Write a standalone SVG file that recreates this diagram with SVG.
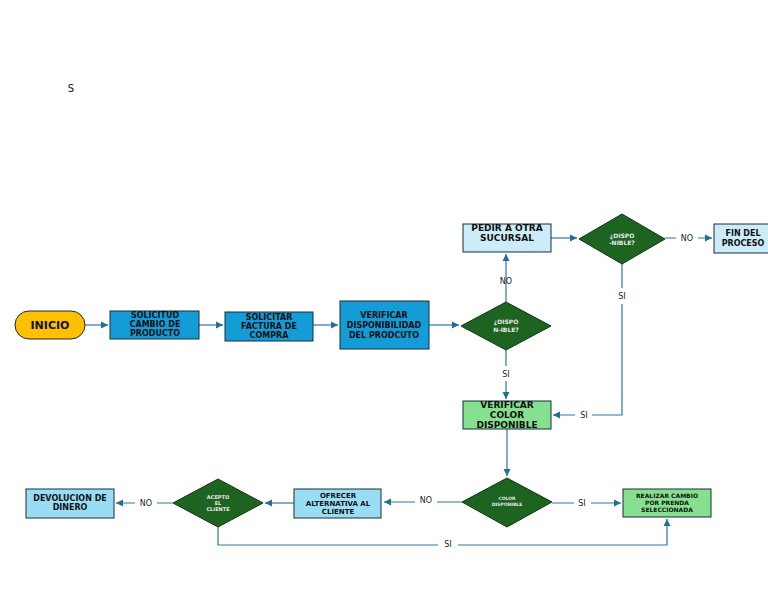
<svg xmlns="http://www.w3.org/2000/svg" width="768" height="594" viewBox="0 0 768 594">
<defs>
<marker id="a" viewBox="0 0 10 10" refX="10" refY="5" markerWidth="6" markerHeight="6" orient="auto"><path d="M0,0L10,5L0,10z" fill="#1f6f98"/></marker>
<style>
text{font-family:"DejaVu Sans",sans-serif;font-weight:bold;text-anchor:middle;fill:#111}
.b{stroke:#1a2a3a;stroke-width:1}
.d{fill:#1e6421;stroke:#103512;stroke-width:1}
.c{fill:none;stroke:#2a7aa3;stroke-width:1.2}
.l{font-weight:normal;font-size:8px;fill:#222}
.dt{fill:#e8e8e8}
</style>
</defs>
<rect width="768" height="594" fill="#fff"/>
<text x="71" y="92" style="font-weight:normal;font-size:10px">S</text>
<g id="connectors">
<path class="c" d="M85,325H108" marker-end="url(#a)"/>
<path class="c" d="M199,325H223" marker-end="url(#a)"/>
<path class="c" d="M313,325H338" marker-end="url(#a)"/>
<path class="c" d="M429,325H459" marker-end="url(#a)"/>
<path class="c" d="M506,302V273M506,288V254" marker-end="url(#a)"/>
<path class="c" d="M551,238H577" marker-end="url(#a)"/>
<path class="c" d="M665,238H676M698,238H712" marker-end="url(#a)"/>
<path class="c" d="M506,350V366M506,381V399" marker-end="url(#a)"/>
<path class="c" d="M622,264V288M622,304V415H592M575,415H553" marker-end="url(#a)"/>
<path class="c" d="M507,429V476" marker-end="url(#a)"/>
<path class="c" d="M552,503H574M591,503H621" marker-end="url(#a)"/>
<path class="c" d="M462,502H437M415,502H384" marker-end="url(#a)"/>
<path class="c" d="M294,503H265" marker-end="url(#a)"/>
<path class="c" d="M173,503H157M135,503H116" marker-end="url(#a)"/>
<path class="c" d="M218,527V545H438M458,545H667V519" marker-end="url(#a)"/>
</g>
<g class="l-g">
<text class="l" x="506" y="284">NO</text>
<text class="l" x="622" y="299">SI</text>
<text class="l" x="687" y="241">NO</text>
<text class="l" x="506" y="377">SI</text>
<text class="l" x="584" y="418">SI</text>
<text class="l" x="426" y="503">NO</text>
<text class="l" x="582" y="506">SI</text>
<text class="l" x="146" y="506">NO</text>
<text class="l" x="448" y="547">SI</text>
</g>
<g id="inicio"><rect class="b" x="15" y="311" width="70" height="28" rx="14" fill="#ffc000"/><text x="50" y="329" font-size="11">INICIO</text></g>
<g id="solicitud"><rect class="b" x="110" y="311" width="89" height="28" fill="#149cd7"/><text font-size="8"><tspan x="155" y="318">SOLICITUD</tspan><tspan x="155" y="327">CAMBIO DE</tspan><tspan x="155" y="336">PRODUCTO</tspan></text></g>
<g id="solicitar"><rect class="b" x="225" y="312" width="88" height="29" fill="#149cd7"/><text font-size="8"><tspan x="269" y="320">SOLICITAR</tspan><tspan x="269" y="329">FACTURA DE</tspan><tspan x="269" y="338">COMPRA</tspan></text></g>
<g id="verificar"><rect class="b" x="340" y="301" width="89" height="48" fill="#149cd7"/><text font-size="8"><tspan x="384" y="318">VERIFICAR</tspan><tspan x="384" y="328">DISPONIBILIDAD</tspan><tspan x="384" y="338">DEL PRODCUTO</tspan></text></g>
<g id="dispo1"><path class="d" d="M461,326L506,302L551,326L506,350z"/><text class="dt" font-size="6"><tspan x="506" y="324">¿DISPO</tspan><tspan x="506" y="332">N-IBLE?</tspan></text></g>
<g id="pedir"><rect class="b" x="463" y="224" width="88" height="28" fill="#ccedf8"/><text font-size="9"><tspan x="507" y="231">PEDIR A OTRA</tspan><tspan x="507" y="241">SUCURSAL</tspan></text></g>
<g id="dispo2"><path class="d" d="M579,239L622,214L665,239L622,264z"/><text class="dt" font-size="6"><tspan x="622" y="238">¿DISPO</tspan><tspan x="622" y="245">-NIBLE?</tspan></text></g>
<g id="fin"><rect class="b" x="714" y="224" width="58" height="29" fill="#ccedf8"/><text font-size="8"><tspan x="743" y="236">FIN DEL</tspan><tspan x="743" y="246">PROCESO</tspan></text></g>
<g id="color"><rect class="b" x="463" y="401" width="88" height="28" fill="#86e08f"/><text font-size="9"><tspan x="507" y="408">VERIFICAR</tspan><tspan x="507" y="418">COLOR</tspan><tspan x="507" y="428">DISPONIBLE</tspan></text></g>
<g id="dispo3"><path class="d" d="M462,502L507,478L552,502L507,527z"/><text class="dt" font-size="4.5" font-weight="normal"><tspan x="507" y="500">COLOR</tspan><tspan x="507" y="506">DISPONIBLE</tspan></text></g>
<g id="realizar"><rect class="b" x="623" y="489" width="88" height="28" fill="#86e08f"/><text font-size="6"><tspan x="667" y="498">REALIZAR CAMBIO</tspan><tspan x="667" y="505">POR PRENDA</tspan><tspan x="667" y="512">SELECCIONADA</tspan></text></g>
<g id="ofrecer"><rect class="b" x="294" y="489" width="87" height="29" fill="#99ddf5"/><text font-size="7"><tspan x="338" y="498">OFRECER</tspan><tspan x="338" y="506">ALTERNATIVA AL</tspan><tspan x="338" y="514">CLIENTE</tspan></text></g>
<g id="acepto"><path class="d" d="M173,503L218,479L263,503L218,527z"/><text class="dt" font-size="5"><tspan x="218" y="499">ACEPTO</tspan><tspan x="218" y="505">EL</tspan><tspan x="218" y="511">CLIENTE</tspan></text></g>
<g id="devolucion"><rect class="b" x="26" y="489" width="88" height="29" fill="#99ddf5"/><text font-size="8"><tspan x="70" y="501">DEVOLUCION DE</tspan><tspan x="70" y="510">DINERO</tspan></text></g>
</svg>
